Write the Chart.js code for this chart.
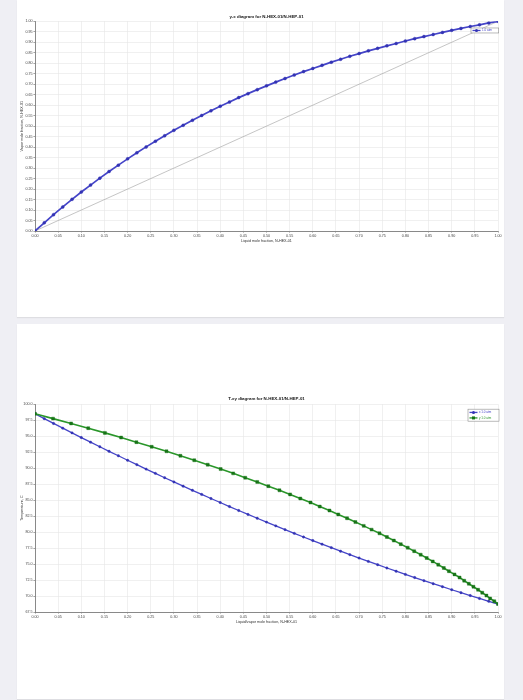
<!DOCTYPE html>
<html>
<head>
<meta charset="utf-8">
<script src="https://cdn.jsdelivr.net/npm/chart.js@4/dist/chart.umd.min.js"></script>
<style>
  html, body { margin: 0; padding: 0; background: #efeff4; }
  body { width: 523px; height: 700px; position: relative; overflow: hidden; }
  .card { position: absolute; left: 17px; width: 487px; background: #fff; }
  #card1 { top: 0; height: 317px; box-shadow: 0 1px 1px rgba(0,0,0,0.07); }
  #card2 { top: 324px; height: 375px; box-shadow: 0 1px 1px rgba(0,0,0,0.07); }
  .card canvas { display: block; }
</style>
</head>
<body>
<div class="card" id="card1"><canvas id="chart-yx"></canvas></div>
<div class="card" id="card2"><canvas id="chart-txy"></canvas></div>

<script>
// N-HEX-01 / N-HEP-01 at 1.0 atm
var liqFrac = [0.00, 0.02, 0.04, 0.06, 0.08, 0.10, 0.12, 0.14, 0.16, 0.18,
               0.20, 0.22, 0.24, 0.26, 0.28, 0.30, 0.32, 0.34, 0.36, 0.38,
               0.40, 0.42, 0.44, 0.46, 0.48, 0.50, 0.52, 0.54, 0.56, 0.58,
               0.60, 0.62, 0.64, 0.66, 0.68, 0.70, 0.72, 0.74, 0.76, 0.78,
               0.80, 0.82, 0.84, 0.86, 0.88, 0.90, 0.92, 0.94, 0.96, 0.98, 1.00];
var vapFrac = [0.000, 0.039, 0.078, 0.115, 0.151, 0.186, 0.219, 0.252, 0.284, 0.314,
               0.344, 0.373, 0.401, 0.428, 0.454, 0.480, 0.504, 0.528, 0.551, 0.573,
               0.595, 0.615, 0.636, 0.655, 0.674, 0.692, 0.710, 0.727, 0.744, 0.760,
               0.775, 0.790, 0.805, 0.819, 0.833, 0.846, 0.859, 0.871, 0.883, 0.894,
               0.906, 0.917, 0.927, 0.937, 0.947, 0.957, 0.966, 0.975, 0.983, 0.992, 1.000];
var bubbleT = [98.50, 97.74, 96.99, 96.25, 95.51, 94.78, 94.06, 93.34, 92.63, 91.93,
               91.23, 90.54, 89.85, 89.18, 88.50, 87.84, 87.18, 86.53, 85.89, 85.25,
               84.62, 83.99, 83.37, 82.76, 82.16, 81.56, 80.97, 80.38, 79.80, 79.23,
               78.67, 78.11, 77.56, 77.01, 76.47, 75.94, 75.41, 74.90, 74.38, 73.88,
               73.38, 72.89, 72.40, 71.92, 71.45, 70.98, 70.52, 70.07, 69.62, 69.18, 68.75];
var diagX = [0, 1];
var diagY = [0, 1];
var fracRange = [0, 1];
var fracStep = 0.05;
var tempRange = [67.5, 100];
var tempStep = 2.5;

var BLUE = "#4545c8", BLUE_DARK = "#3333b4";
var GREEN = "#2a962a", GREEN_DARK = "#187418";
var FONT = "'Liberation Sans', Arial, sans-serif";

Chart.defaults.font.family = FONT;
Chart.defaults.animation = false;

function pts(xs, ys) {
  return xs.map(function (x, i) { return { x: x, y: ys[i] }; });
}

function axis(range, step, digits, title, titlePad, fit) {
  return {
    type: "linear",
    min: range[0],
    max: range[1],
    ticks: {
      stepSize: step, autoSkip: false, maxRotation: 0, padding: 0.8,
      color: "#444", font: { size: 3.7 },
      callback: function (v) { return Number(v).toFixed(digits); }
    },
    grid: { color: "#e6e6e6", lineWidth: 0.6, tickLength: 1.6, tickColor: "#666", tickWidth: 0.6 },
    border: { color: "#6e6e6e", width: 0.8 },
    title: { display: true, text: title, color: "#333", font: { size: 3.7 }, padding: titlePad },
    afterFit: fit
  };
}

// small boxed legend drawn inside the plot's top-right corner
function boxLegend(items, g) {
  return {
    id: "boxLegend",
    afterDatasetsDraw: function (chart) {
      var ctx = chart.ctx, a = chart.chartArea;
      var x = a.right - g.width + g.dx, y = a.top + g.dy;
      var h = g.rowH * items.length + 1;
      ctx.save();
      ctx.fillStyle = "#fff";
      ctx.fillRect(x, y, g.width, h);
      ctx.strokeStyle = "#8c8c8c";
      ctx.lineWidth = 0.6;
      ctx.strokeRect(x, y, g.width, h);
      items.forEach(function (idx, r) {
        var ds = chart.data.datasets[idx];
        var cy = y + 0.5 + g.rowH * (r + 0.5);
        ctx.strokeStyle = ds.borderColor;
        ctx.lineWidth = 1.3;
        ctx.beginPath();
        ctx.moveTo(x + 1.5, cy);
        ctx.lineTo(x + 9.5, cy);
        ctx.stroke();
        ctx.fillStyle = ds.pointBackgroundColor;
        ctx.beginPath();
        if (ds.pointStyle === "rect") {
          ctx.rect(x + 4, cy - 1.5, 3, 3);
        } else {
          ctx.arc(x + 5.5, cy, 1.5, 0, Math.PI * 2);
        }
        ctx.fill();
        ctx.fillStyle = ds.borderColor;
        ctx.font = "3px " + FONT;
        ctx.textBaseline = "middle";
        ctx.textAlign = "left";
        ctx.fillText(ds.label, x + 11, cy);
      });
      ctx.restore();
    }
  };
}

var yAxisFit = function (s) { s.width = 18; };
var xAxisFit = function (s) { s.height = 12; };

new Chart(document.getElementById("chart-yx"), {
  type: "scatter",
  data: {
    datasets: [
      {
        label: "1.0 atm",
        data: pts(liqFrac, vapFrac),
        showLine: true,
        borderColor: BLUE,
        borderWidth: 1.7,
        pointStyle: "circle",
        pointRadius: 1.5,
        pointBorderWidth: 0.4,
        pointBackgroundColor: BLUE_DARK,
        pointBorderColor: BLUE_DARK,
        order: 0
      },
      {
        label: "",
        data: pts(diagX, diagY),
        showLine: true,
        borderColor: "#9e9e9e",
        borderWidth: 0.6,
        pointRadius: 0,
        order: 1
      }
    ]
  },
  options: {
    responsive: true,
    maintainAspectRatio: false,
    layout: { padding: { top: 14.5, left: 0, right: 6, bottom: 74 } },
    plugins: {
      legend: { display: false },
      tooltip: { enabled: false },
      title: {
        display: true,
        text: "y-x diagram for N-HEX-01/N-HEP-01",
        fullSize: false,
        color: "#111",
        font: { size: 4.4, weight: "bold" },
        padding: { top: 0, bottom: 1.5 }
      }
    },
    scales: {
      x: axis(fracRange, fracStep, 2, "Liquid mole fraction, N-HEX-01", { top: 1, bottom: 0 }, xAxisFit),
      y: axis(fracRange, fracStep, 2, "Vapor mole fraction, N-HEX-01", { top: 3, bottom: 0 }, yAxisFit)
    }
  },
  plugins: [boxLegend([0], { width: 27.7, dx: 0.7, dy: 6.7, rowH: 4 })]
});

new Chart(document.getElementById("chart-txy"), {
  type: "scatter",
  data: {
    datasets: [
      {
        label: "x 1.0 atm",
        data: pts(liqFrac, bubbleT),
        showLine: true,
        borderColor: BLUE,
        borderWidth: 1.3,
        pointStyle: "circle",
        pointRadius: 1.2,
        pointBorderWidth: 0.4,
        pointBackgroundColor: BLUE_DARK,
        pointBorderColor: BLUE_DARK,
        order: 1
      },
      {
        label: "y 1.0 atm",
        data: pts(vapFrac, bubbleT),
        showLine: true,
        borderColor: GREEN,
        borderWidth: 1.6,
        pointStyle: "rect",
        pointRadius: 2.1,
        pointBorderWidth: 0.4,
        pointBackgroundColor: GREEN_DARK,
        pointBorderColor: GREEN_DARK,
        order: 0
      }
    ]
  },
  options: {
    responsive: true,
    maintainAspectRatio: false,
    layout: { padding: { top: 72.5, left: 0, right: 6, bottom: 75 } },
    plugins: {
      legend: { display: false },
      tooltip: { enabled: false },
      title: {
        display: true,
        text: "T-xy diagram for N-HEX-01/N-HEP-01",
        fullSize: false,
        color: "#111",
        font: { size: 4.4, weight: "bold" },
        padding: { top: 0, bottom: 2.4 }
      }
    },
    scales: {
      x: axis(fracRange, fracStep, 2, "Liquid/vapor mole fraction, N-HEX-01", { top: 1, bottom: 0 }, xAxisFit),
      y: axis(tempRange, tempStep, 1, "Temperature, C", { top: 3, bottom: 0 }, yAxisFit)
    }
  },
  plugins: [boxLegend([0, 1], { width: 31, dx: 1, dy: 5, rowH: 5.5 })]
});
</script>
</body>
</html>
